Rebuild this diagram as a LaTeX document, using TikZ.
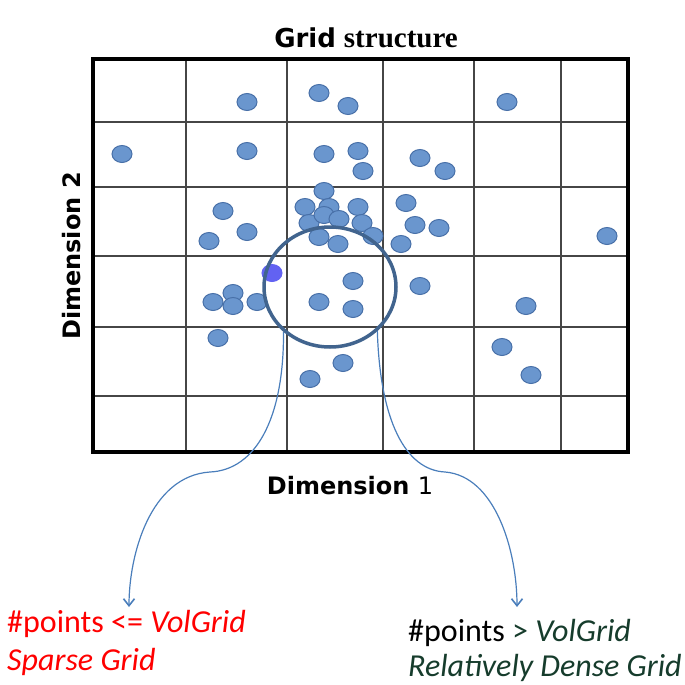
\documentclass[tikz,border=0pt]{standalone}
\usepackage{fontspec}
\setmainfont{Carlito}
\newfontfamily\dvs{DejaVu Sans}
\newfontfamily\lserif{Liberation Serif}
\usetikzlibrary{shapes.geometric,arrows.meta}
\definecolor{ptfill}{RGB}{106,150,206}
\definecolor{ptedge}{RGB}{72,112,168}
\definecolor{ptpurple}{RGB}{98,98,242}
\definecolor{ringblue}{RGB}{65,100,142}
\definecolor{arrowblue}{RGB}{74,126,187}
\definecolor{densegreen}{RGB}{22,60,44}
\definecolor{gridgray}{RGB}{70,70,70}
\tikzset{
  dot/.style={ellipse, minimum width=20pt, minimum height=17pt, inner sep=0pt,
    fill=ptfill, draw=ptedge, line width=1pt},
  dotpurple/.style={dot, fill=ptpurple, draw=ptpurple},
  gridline/.style={draw=gridgray, line width=1.8pt},
  frame/.style={draw=black, line width=4pt},
  ring/.style={ellipse, draw=ringblue, line width=3.5pt, minimum width=132pt,
    minimum height=120pt, inner sep=0pt},
  link/.style={draw=arrowblue, line width=1.2pt,
    -{Straight Barb[length=7pt,width=11pt,line width=1.6pt]}},
  axis/.style={font=\dvs\bfseries\fontsize{24}{28}\selectfont, inner sep=0pt},
  lowtext/.style={font=\fontsize{32}{36}\selectfont, inner sep=0pt, anchor=base west}
}
\begin{document}
\begin{tikzpicture}[x=1pt,y=-1pt]
\useasboundingbox (0,0) rectangle (685,685);
% grid lines
\foreach \gx in {186,287,383,474,561}
  \draw[gridline] (\gx,59) -- (\gx,452);
\foreach \gy in {122,187,256,327,396}
  \draw[gridline] (93,\gy) -- (628,\gy);
\draw[frame] (93,59) rectangle (628,452);
% points
\foreach \px/\py [count=\i] in {
  247/102, 319/93, 348/106, 507/102,
  122/154, 247/151, 324/154, 358/151, 363/171, 420/158, 445/171,
  324/191, 223/211, 305/207, 329/207, 358/207, 406/203,
  309/223, 324/215, 339/219, 362/223, 415/225, 439/228,
  209/241, 247/232, 319/237, 338/244, 373/236, 401/244, 607/236,
  353/281, 420/286, 233/293, 213/302, 233/306, 257/302, 319/302, 353/309, 526/306,
  218/338, 502/347, 343/363, 310/379, 531/375}
  \node[dot] (p\i) at (\px,\py) {};
\node[dotpurple] (pv) at (272,273) {};
% circle
\node[ring] (focus) at (330,287) {};
% titles
\node[inner sep=0pt, anchor=base] (title) at (366,48)
  {{\dvs\bfseries\fontsize{26}{28}\selectfont Grid}\hspace{8pt}{\lserif\bfseries\fontsize{29}{32}\selectfont structure}};
\node[axis, anchor=base] (dim1) at (350,494) {Dimension {\mdseries 1}};
\node[axis, anchor=base, rotate=90] (dim2) at (80,256) {Dimension 2};
% bottom labels
\node[lowtext, text=red] (sparse1) at (7,632) {\#points <= \textit{VolGrid}};
\node[lowtext, text=red] (sparse2) at (7,670) {\textit{Sparse Grid}};
\node[lowtext] (dense1) at (408,641) {\#points \textcolor{densegreen}{> \textit{VolGrid}}};
\node[lowtext, text=densegreen] (dense2) at (408,676) {\textit{Relatively Dense Grid}};
\coordinate (tipL) at (129,607);
\coordinate (tipR) at (517,607);
% connectors
\draw[link] (focus.224) .. controls (284,420) and (255,470) .. (210,472)
  .. controls (150,476) and (129,555) .. (tipL);
\draw[link] (focus.317) .. controls (380,420) and (405,470) .. (445,472)
  .. controls (495,476) and (517,550) .. (tipR);
\end{tikzpicture}
\end{document}
